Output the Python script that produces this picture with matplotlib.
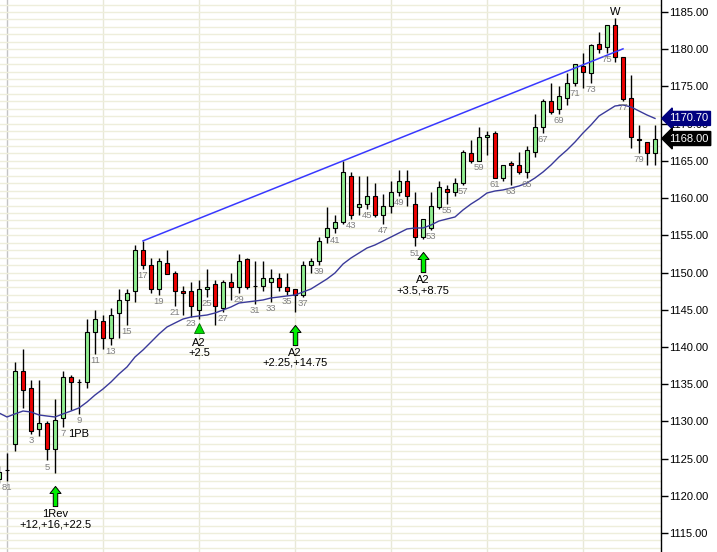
import numpy as np
import matplotlib
matplotlib.use("Agg")
from matplotlib import pyplot as plt
from matplotlib.path import Path
from matplotlib.transforms import offset_copy, blended_transform_factory

plt.rcParams['font.family'] = ['Liberation Sans', 'DejaVu Sans']

# bar names: two bars of the previous session, then today's 1..81
bar_names = ['80', '81'] + [str(i) for i in range(1, 82)]
bar_x = list(range(-1, 82))

opens = [1122.25, 1123.5,
         1127.0, 1136.75, 1134.5, 1129.0, 1129.75, 1126.25, 1130.5, 1136.0, 1135.25, 1135.25,
         1142.0, 1143.5, 1141.25, 1144.5, 1146.25, 1147.5, 1153.0, 1151.0, 1147.75, 1151.25,
         1150.0, 1147.5, 1147.5, 1145.0, 1147.75, 1148.5, 1145.25, 1148.75, 1148.0, 1151.75,
         1148.25, 1148.25, 1148.75, 1149.25, 1148.0, 1147.75, 1147.0, 1151.0, 1151.5, 1154.75,
         1156.0, 1156.75, 1163.0, 1158.75, 1159.25, 1160.25, 1157.75, 1159.0, 1160.75, 1162.25,
         1159.25, 1154.75, 1156.0, 1158.75, 1161.25, 1160.75, 1162.0, 1166.0, 1165.0, 1168.25,
         1168.75, 1162.75, 1164.75, 1164.5, 1163.5, 1166.25, 1169.5, 1173.0, 1172.0, 1173.5,
         1175.5, 1177.75, 1176.75, 1180.75, 1180.25, 1183.25, 1179.0, 1173.5, 1168.0, 1167.5,
         1166.0]
highs = [1124.0, 1125.75,
         1138.0, 1139.75, 1135.5, 1135.5, 1130.0, 1133.0, 1136.75, 1136.25, 1135.75, 1143.75,
         1145.0, 1144.25, 1145.25, 1147.75, 1147.75, 1153.75, 1154.25, 1152.0, 1152.0, 1153.0,
         1150.25, 1148.25, 1148.75, 1149.0, 1150.5, 1149.0, 1149.0, 1150.0, 1152.5, 1152.0,
         1151.5, 1151.5, 1150.5, 1150.0, 1150.0, 1147.75, 1151.5, 1152.0, 1154.75, 1158.75,
         1157.75, 1165.0, 1163.5, 1163.0, 1163.0, 1162.0, 1160.5, 1162.25, 1163.75, 1163.75,
         1160.75, 1157.25, 1160.75, 1162.25, 1161.75, 1162.75, 1166.5, 1167.75, 1169.5, 1169.0,
         1169.0, 1164.5, 1165.0, 1166.25, 1167.0, 1171.25, 1173.25, 1175.5, 1175.0, 1176.75,
         1178.0, 1179.5, 1180.75, 1182.25, 1183.25, 1184.25, 1179.0, 1176.5, 1169.75, 1167.5,
         1169.75]
lows = [1121.75, 1122.0,
        1126.0, 1131.75, 1128.25, 1128.0, 1124.75, 1123.0, 1129.25, 1131.5, 1131.0, 1134.5,
        1139.0, 1139.75, 1140.25, 1141.25, 1143.0, 1146.0, 1150.5, 1147.25, 1147.0, 1149.75,
        1145.5, 1144.25, 1144.0, 1143.75, 1146.75, 1143.0, 1144.75, 1146.25, 1147.25, 1147.75,
        1145.75, 1147.5, 1146.0, 1147.5, 1147.0, 1144.75, 1146.75, 1150.0, 1151.0, 1154.0,
        1155.25, 1156.5, 1157.25, 1157.75, 1158.5, 1157.5, 1156.5, 1158.0, 1160.25, 1159.0,
        1153.5, 1154.5, 1155.75, 1158.5, 1159.25, 1160.25, 1161.75, 1164.75, 1165.0, 1165.75,
        1162.75, 1162.25, 1161.75, 1163.25, 1162.75, 1165.5, 1168.75, 1171.25, 1171.25, 1172.5,
        1175.0, 1174.75, 1175.5, 1179.5, 1179.5, 1178.25, 1173.0, 1166.75, 1166.0, 1164.5,
        1164.5]
closes = [1123.25, 1123.5,
          1136.75, 1134.25, 1128.75, 1129.75, 1126.25, 1130.25, 1136.0, 1135.25, 1135.25, 1142.0,
          1143.75, 1141.25, 1144.25, 1146.25, 1147.25, 1153.0, 1151.0, 1147.75, 1151.5, 1149.75,
          1147.5, 1147.25, 1145.5, 1147.75, 1148.0, 1145.5, 1148.75, 1148.0, 1151.5, 1148.0,
          1148.25, 1149.25, 1149.25, 1148.0, 1147.5, 1147.0, 1151.0, 1151.5, 1154.25, 1156.0,
          1156.75, 1163.5, 1157.75, 1159.25, 1160.25, 1157.75, 1159.0, 1160.75, 1162.25, 1160.25,
          1154.75, 1157.25, 1159.0, 1161.5, 1160.75, 1162.0, 1166.25, 1165.0, 1168.25, 1168.5,
          1162.75, 1164.5, 1164.5, 1163.5, 1166.5, 1169.5, 1173.0, 1171.5, 1173.75, 1175.5,
          1178.0, 1177.0, 1180.5, 1180.0, 1183.25, 1179.0, 1173.25, 1168.25, 1167.75, 1166.0,
          1168.0]

# moving average as drawn on the chart
ma_values = [1131.13, 1130.59,
             1131.00, 1131.39, 1131.26, 1130.86, 1130.72, 1130.59, 1131.00, 1131.39, 1131.80, 1132.60,
             1133.54, 1134.35, 1135.29, 1136.37, 1137.31, 1138.65, 1139.59, 1140.66, 1141.74, 1142.68,
             1143.22, 1143.75, 1144.02, 1144.16, 1144.29, 1144.56, 1144.96, 1145.37, 1145.90, 1146.04,
             1146.17, 1146.31, 1146.58, 1146.71, 1146.85, 1146.98, 1147.38, 1147.79, 1148.46, 1149.13,
             1149.94, 1151.14, 1151.95, 1152.62, 1153.29, 1153.70, 1154.23, 1154.77, 1155.31, 1155.85,
             1155.98, 1155.98, 1156.38, 1156.92, 1157.19, 1157.46, 1158.40, 1159.20, 1159.88, 1160.68,
             1160.95, 1161.09, 1161.35, 1161.62, 1162.03, 1162.70, 1163.50, 1164.44, 1165.52, 1166.46,
             1167.53, 1168.74, 1169.82, 1171.03, 1171.70, 1172.37, 1172.51, 1172.24, 1171.70, 1171.16,
             1170.70]

# trend line from bar 17 high through bar 42 high, extended to bar 77
trend_bars = [17, 77]
trend_prices = [1154.25, 1180.05]

price_ticks = list(range(1115, 1186, 5))

# signal annotations: bar, marker kind, text lines
signals = [(6, 'arrow', '1Rev\n+12,+16,+22.5'),
           (24, 'triangle', 'A2\n+2.5'),
           (36, 'arrow', 'A2\n+2.25,+14.75'),
           (52, 'arrow', 'A2\n+3.5,+8.75')]

GREEN = '#90ee90'
RED = '#ee0000'

fig = plt.figure(figsize=(7.17, 5.52), dpi=100)
ax = fig.add_axes([0, 0, 661 / 717, 1])
ax.set_xlim(-0.875, 81.75)
ax.set_ylim(1112.45, 1186.61)

# background grid
ax.set_yticks(np.arange(1113, 1187, 1.0), minor=True)
ax.set_yticks(price_ticks)
ax.grid(axis='y', which='both', color='#eeeedb', linewidth=1, zorder=0)
for b in range(12, 82, 12):
    ax.axvline(b, color='#e8e8d8', linewidth=1, zorder=0)
ax.axvline(0, color='#c4c4c4', linewidth=1, zorder=0)

x = np.array(bar_x)
o = np.array(opens)
h = np.array(highs)
l = np.array(lows)
c = np.array(closes)

ax.vlines(x, l, h, color='black', linewidth=1, zorder=2)
colors = [GREEN if cc >= oo else RED for oo, cc in zip(o, c)]
ax.bar(x, np.abs(c - o), bottom=np.minimum(o, c), width=0.62, color=colors,
       edgecolor='black', linewidth=0.8, zorder=3)

ax.plot(x, ma_values, color='#3a3a9a', linewidth=1, zorder=4)
ax.plot(trend_bars, trend_prices, color='#3838ff', linewidth=1.1, zorder=4)

# odd bar numbers under the lows
for name, xx, lo in zip(bar_names, bar_x, lows):
    n = int(name)
    if n % 2 == 1 and not (xx > 0 and n in (1, 81)):
        ax.annotate(name, (xx, lo), xytext=(0, -1.5), textcoords='offset points',
                    ha='center', va='top', fontsize=6.8, color='#808080', zorder=5)

# arrow marker
arrow_path = Path([(0, 1), (0.55, 0.3), (0.22, 0.3), (0.22, -1), (-0.22, -1),
                   (-0.22, 0.3), (-0.55, 0.3), (0, 1)], closed=True)

for bar, kind, text in signals:
    i = bar_x.index(bar)
    lo = lows[i]
    if kind == 'arrow':
        tr = offset_copy(ax.transData, fig=fig, x=0, y=-23, units='dots')
        ax.plot([bar], [lo], marker=arrow_path, markersize=14.5, color='#00ee00',
                markeredgecolor='black', markeredgewidth=0.7, transform=tr, zorder=6)
        dy = -36
    else:
        tr = offset_copy(ax.transData, fig=fig, x=0, y=-9, units='dots')
        ax.plot([bar], [lo], marker='^', markersize=7, color='#00dd00',
                markeredgecolor='#006600', markeredgewidth=0.6, transform=tr, zorder=6)
        dy = -19
    ax.annotate(text, (bar, lo), xytext=(0, dy * 0.72), textcoords='offset points',
                ha='center', va='top', fontsize=8, color='black', linespacing=1.05, zorder=6)

# 1PB under bar 9, W over bar 76
i9 = bar_x.index(9)
ax.annotate('1PB', (9, lows[i9]), xytext=(0, -10.5), textcoords='offset points',
            ha='center', va='top', fontsize=8, color='black')
i76 = bar_x.index(76)
ax.annotate('W', (76, highs[i76]), xytext=(0, 0.5), textcoords='offset points',
            ha='center', va='bottom', fontsize=8, color='black')

# right price axis
ax.yaxis.tick_right()
ax.yaxis.set_major_formatter(matplotlib.ticker.FormatStrFormatter('%.2f'))
ax.tick_params(axis='y', which='major', direction='out', length=5, width=1,
               labelsize=8, pad=1, colors='black')
ax.tick_params(axis='y', which='minor', length=0)
ax.set_xticks([])
for side in ['left', 'top', 'bottom']:
    ax.spines[side].set_visible(False)
ax.spines['right'].set_linewidth(1)

# price tags
tr_tag = blended_transform_factory(ax.transAxes, ax.transData)
ax.annotate('%.2f' % ma_values[-1], (1.0, ma_values[-1]), xycoords=tr_tag,
            xytext=(6, 0), textcoords='offset points', ha='left', va='center',
            fontsize=8, color='white', annotation_clip=False,
            bbox=dict(boxstyle='larrow,pad=0.18', fc='#000080', ec='#000080'))
ax.annotate('%.2f' % closes[-1], (1.0, closes[-1]), xycoords=tr_tag,
            xytext=(6, 0), textcoords='offset points', ha='left', va='center',
            fontsize=8, color='white', annotation_clip=False,
            bbox=dict(boxstyle='larrow,pad=0.18', fc='black', ec='black'))

fig.savefig('out.png', dpi=100)
